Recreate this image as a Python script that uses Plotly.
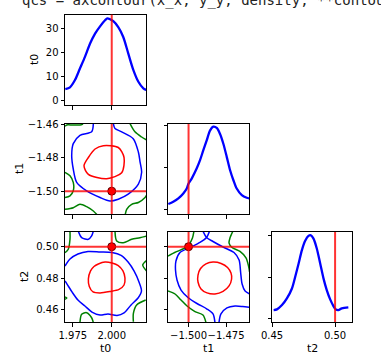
import plotly.graph_objects as go

W, H = 381, 363

# ---------------- data ----------------
param_names = ["t0", "t1", "t2"]
truth = [2.000, -1.500, 0.500]

# marginal densities
t0_grid = [1.9702, 1.9732, 1.9764, 1.9796, 1.9828, 1.9861, 1.9893, 1.9925, 1.9957, 1.9972,
           1.9989, 2.0010, 2.0042, 2.0074, 2.0106, 2.0139, 2.0171, 2.0203, 2.0222]
t0_dens = [4.9, 5.6, 8.6, 13.4, 18.2, 23.7, 27.8, 30.8, 33.3, 34.1,
           33.7, 32.9, 30.5, 26.4, 19.6, 12.7, 7.9, 5.2, 4.5]

t1_grid = [-1.5135, -1.5102, -1.5068, -1.5035, -1.5012, -1.5002, -1.4979, -1.4946, -1.4924,
           -1.4902, -1.4879, -1.4857, -1.4835, -1.4812, -1.4790, -1.4768, -1.4745, -1.4723,
           -1.4701, -1.4679, -1.4645, -1.4612, -1.4595]
t1_dens = [2.38, 3.49, 5.08, 7.46, 9.84, 11.9, 14.6, 19.4, 23.3, 28.1, 32.9, 37.6, 39.5,
           38.9, 36.0, 31.3, 24.9, 18.6, 13.8, 9.84, 6.67, 5.40, 5.08]

t2_grid = [0.4513, 0.4539, 0.4579, 0.4618, 0.4658, 0.4684, 0.4711, 0.4737, 0.4763, 0.4789,
           0.4808, 0.4829, 0.4855, 0.4882, 0.4908, 0.4934, 0.4961, 0.4987, 0.5005, 0.5026,
           0.5053, 0.5105]
t2_dens = [4.03, 4.36, 6.45, 9.68, 14.5, 20.2, 26.6, 33.1, 37.6, 40.0, 40.3, 38.7, 33.9,
           26.6, 19.4, 13.7, 9.19, 5.97, 4.36, 4.03, 4.84, 5.32]

# contour paths, panel t0 (x) vs t1 (y)
t0t1_red = ([1.9946, 2.0042, 2.0079, 2.0064, 1.9968, 1.9850, 1.9822, 1.9850, 1.9893, 1.9946],
            [-1.4727, -1.4738, -1.4798, -1.4889, -1.4925, -1.4899, -1.4848, -1.4798, -1.4747, -1.4727])
t0t1_blue = ([1.9882, 1.9871, 1.9796, 1.9753, 1.9743, 1.9753, 1.9775, 1.9839, 1.9925, 1.9989,
              2.0042, 2.0106, 2.0171, 2.0192, 2.0182, 2.0171, 2.0138, 2.0064, 2.0021, 2.0010],
             [-1.4594, -1.4644, -1.4665, -1.4715, -1.4786, -1.4867, -1.4947, -1.4998, -1.5038, -1.5059,
              -1.5048, -1.5018, -1.4958, -1.4887, -1.4826, -1.4765, -1.4685, -1.4644, -1.4624, -1.4594])
t0t1_green = [
    ([1.9700, 1.9719, 1.9745, 1.9796, 1.9816], [-1.4609, -1.4602, -1.4603, -1.4603, -1.4597]),
    ([2.0117, 2.0149, 2.0192, 2.0228], [-1.4594, -1.4644, -1.4675, -1.4695]),
    ([1.9700, 1.9732, 1.9753, 1.9753, 1.9732, 1.9700], [-1.4887, -1.4907, -1.4947, -1.4998, -1.5028, -1.5038]),
    ([1.9700, 1.9753, 1.9796, 1.9839, 1.9882, 1.9914], [-1.5109, -1.5099, -1.5079, -1.5093, -1.5119, -1.5150]),
    ([2.0085, 2.0096, 2.0128, 2.0171, 2.0214, 2.0228], [-1.5150, -1.5109, -1.5079, -1.5068, -1.5038, -1.5018]),
]

# contour paths, panel t0 (x) vs t2 (y)
t0t2_red = ([1.9914, 1.9957, 2.0002, 2.0042, 2.0072, 2.0085, 2.0079, 2.0047, 1.9989, 1.9925,
             1.9880, 1.9856, 1.9850, 1.9864, 1.9886, 1.9914],
            [0.4891, 0.4903, 0.4897, 0.4881, 0.4847, 0.4802, 0.4758, 0.4730, 0.4717, 0.4708,
             0.4714, 0.4749, 0.4796, 0.4847, 0.4875, 0.4891])
t0t2_blue = [
    ([1.9700, 1.9732, 1.9783, 1.9848, 1.9925, 2.0002, 2.0060, 2.0105, 2.0143, 2.0175, 2.0191,
      2.0169, 2.0124, 2.0079, 2.0034, 1.9976, 1.9925, 1.9873, 1.9828, 1.9783, 1.9745, 1.9713, 1.9700],
     [0.4878, 0.4922, 0.4954, 0.4970, 0.4967, 0.4963, 0.4945, 0.4903, 0.4847, 0.4777, 0.4720,
      0.4676, 0.4632, 0.4581, 0.4565, 0.4575, 0.4568, 0.4587, 0.4625, 0.4663, 0.4714, 0.4764, 0.4783]),
    ([1.9785, 1.9807, 1.9850, 1.9871, 1.9882], [0.5099, 0.5057, 0.5047, 0.5068, 0.5099]),
]
t0t2_green = [
    ([1.9732, 1.9732, 1.9721, 1.9700], [0.5099, 0.5047, 0.4984, 0.4962]),
    ([2.0021, 2.0032, 2.0074, 2.0128, 2.0181, 2.0228], [0.5099, 0.5036, 0.5025, 0.5047, 0.5057, 0.5068]),
    ([2.0228, 2.0199, 2.0228], [0.4916, 0.4884, 0.4842]),
    ([2.0139, 2.0139, 2.0160, 2.0218], [0.4526, 0.4579, 0.4632, 0.4663]),
    ([1.9700, 1.9712, 1.9700], [0.4682, 0.4675, 0.4668]),
    ([1.9796, 1.9807, 1.9839, 1.9871, 1.9882], [0.4520, 0.4573, 0.4583, 0.4551, 0.4520]),
]

# contour paths, panel t1 (x) vs t2 (y)
t1t2_red = ([-1.4884, -1.4837, -1.4783, -1.4740, -1.4717, -1.4713, -1.4730, -1.4770, -1.4824,
             -1.4877, -1.4917, -1.4937, -1.4937, -1.4920, -1.4884],
            [0.4891, 0.4903, 0.4894, 0.4869, 0.4834, 0.4796, 0.4752, 0.4717, 0.4701,
             0.4708, 0.4733, 0.4777, 0.4821, 0.4862, 0.4891])
t1t2_blue = [
    ([-1.4860, -1.4880, -1.4924, -1.4990, -1.5057, -1.5084, -1.5087, -1.5077, -1.5050, -1.5004,
      -1.4944, -1.4877, -1.4837, -1.4824],
     [0.5099, 0.5058, 0.5027, 0.4995, 0.4963, 0.4910, 0.4853, 0.4790, 0.4726, 0.4679,
      0.4641, 0.4606, 0.4575, 0.4521]),
    ([-1.4904, -1.4880, -1.4837, -1.4770, -1.4697, -1.4663, -1.4653, -1.4643, -1.4623, -1.4593],
     [0.5099, 0.5058, 0.5033, 0.4998, 0.4963, 0.4916, 0.4840, 0.4764, 0.4720, 0.4701]),
    ([-1.4797, -1.4784, -1.4744, -1.4690, -1.4640, -1.4593],
     [0.4521, 0.4575, 0.4613, 0.4625, 0.4622, 0.4616]),
]
t1t2_green = [
    ([-1.5137, -1.5084, -1.5030, -1.4997, -1.4974, -1.4964], [0.4941, 0.4967, 0.4989, 0.5014, 0.5055, 0.5099]),
    ([-1.4704, -1.4724, -1.4730, -1.4710, -1.4657, -1.4617, -1.4600, -1.4593],
     [0.5099, 0.5055, 0.5023, 0.4995, 0.4970, 0.4929, 0.4878, 0.4840]),
    ([-1.5137, -1.5090, -1.5050, -1.5010, -1.4957, -1.4904, -1.4884],
     [0.4720, 0.4701, 0.4663, 0.4625, 0.4590, 0.4568, 0.4521]),
]

# axis ranges and ticks
t0_range = [1.970, 2.022]
t1_range = [-1.5137, -1.4597]
t2_range_row = [0.4524, 0.5093]
t2_range_col = [0.450, 0.5134]
t0_ticks = [1.975, 2.000]
t1_xticks = [-1.500, -1.475]
t1_yticks = [-1.50, -1.48, -1.46]
t2_yticks = [0.46, 0.48, 0.50]
t2_xticks = [0.45, 0.50]
d0_ticks = [0, 10, 20, 30]
d0_range = [-1.7, 35.6]
d1_ticks = [0, 20, 40]
d1_range = [-2.4, 40.8]
d2_ticks = [0, 20, 40]
d2_range = [-1.77, 41.9]

title_text = "qcs = axcontour(x_x, y_y, density, **contour_kwargs)"

# ---------------- layout geometry ----------------
def xd(a, b):
    return [a / W, b / W]

def yd(top, bottom):
    return [1 - bottom / H, 1 - top / H]

col = [xd(65, 146), xd(168, 249), xd(272, 352)]
row = [yd(14.7, 105), yd(124, 214), yd(232, 322)]

RED = "rgba(255,0,0,0.8)"
FONT = dict(family="DejaVu Sans", size=10, color="black")

fig = go.Figure()

def add_line(x, y, color, width, ax):
    fig.add_trace(go.Scatter(x=x, y=y, mode="lines", line=dict(color=color, width=width, shape="spline", smoothing=0.8),
                             xaxis="x" + ax, yaxis="y" + ax, showlegend=False, hoverinfo="skip"))

# diagonal
add_line(t0_grid, t0_dens, "blue", 2.3, "")
add_line(t1_grid, t1_dens, "blue", 2.3, "3")
add_line(t2_grid, t2_dens, "blue", 2.3, "6")

# 2D panels
for ax, red, blues, greens in [("2", t0t1_red, [t0t1_blue], t0t1_green),
                               ("4", t0t2_red, t0t2_blue, t0t2_green),
                               ("5", t1t2_red, t1t2_blue, t1t2_green)]:
    for g in greens:
        add_line(g[0], g[1], "green", 1.5, ax)
    for b in blues:
        add_line(b[0], b[1], "blue", 1.5, ax)
    add_line(red[0], red[1], "red", 1.5, ax)

shapes = []
def vline(xv, ax):
    shapes.append(dict(type="line", xref="x" + ax, yref=("y" + ax) + " domain", x0=xv, x1=xv, y0=0, y1=1,
                       line=dict(color=RED, width=2), layer="above"))
def hline(yv, ax):
    shapes.append(dict(type="line", yref="y" + ax, xref=("x" + ax) + " domain", y0=yv, y1=yv, x0=0, x1=1,
                       line=dict(color=RED, width=2), layer="above"))

vline(truth[0], ""); vline(truth[1], "3"); vline(truth[2], "6")
vline(truth[0], "2"); hline(truth[1], "2")
vline(truth[0], "4"); hline(truth[2], "4")
vline(truth[1], "5"); hline(truth[2], "5")

for ax, px, py in [("2", truth[0], truth[1]), ("4", truth[0], truth[2]), ("5", truth[1], truth[2])]:
    fig.add_trace(go.Scatter(x=[px], y=[py], mode="markers",
                             marker=dict(color="red", size=8, line=dict(color="#550000", width=1)),
                             xaxis="x" + ax, yaxis="y" + ax, showlegend=False, hoverinfo="skip", cliponaxis=False))

def axis(domain, rng, ticks, labels, fmt, anchor):
    return dict(domain=domain, range=rng, tickvals=ticks, showticklabels=labels, tickformat=fmt,
                ticks="outside", ticklen=3.5, tickwidth=1, tickcolor="black", tickangle=0,
                showline=True, linecolor="black", linewidth=1, mirror=True,
                showgrid=False, zeroline=False, anchor=anchor, tickfont=FONT, fixedrange=True)

layout = dict(
    width=W, height=H, margin=dict(l=0, r=0, t=0, b=0, autoexpand=False),
    paper_bgcolor="white", plot_bgcolor="white", font=FONT, shapes=shapes,
    title=dict(text=title_text, x=22 / W, xanchor="left", xref="container", y=0.999, yref="container",
               yanchor="middle", font=dict(family="DejaVu Sans Mono", size=14, color="#222222")),
    xaxis=axis(col[0], t0_range, t0_ticks, False, ".3f", "y"),
    yaxis=axis(row[0], d0_range, d0_ticks, True, "d", "x"),
    xaxis2=axis(col[0], t0_range, t0_ticks, False, ".3f", "y2"),
    yaxis2=axis(row[1], t1_range, t1_yticks, True, ".2f", "x2"),
    xaxis3=axis(col[1], t1_range, t1_xticks, False, ".3f", "y3"),
    yaxis3=axis(row[1], d1_range, d1_ticks, False, "d", "x3"),
    xaxis4=axis(col[0], t0_range, t0_ticks, True, ".3f", "y4"),
    yaxis4=axis(row[2], t2_range_row, t2_yticks, True, ".2f", "x4"),
    xaxis5=axis(col[1], t1_range, t1_xticks, True, ".3f", "y5"),
    yaxis5=axis(row[2], t2_range_row, t2_yticks, False, ".2f", "x5"),
    xaxis6=axis(col[2], t2_range_col, t2_xticks, True, ".2f", "y6"),
    yaxis6=axis(row[2], d2_range, d2_ticks, False, "d", "x6"),
)

annotations = []
# axis titles
for name, xc, yc in [(param_names[0], 34, 60), (param_names[1], 20, 169), (param_names[2], 24, 277)]:
    annotations.append(dict(text=name, x=xc / W, y=1 - yc / H, xref="paper", yref="paper", textangle=-90,
                            xanchor="center", yanchor="middle", showarrow=False, font=dict(family="DejaVu Sans", size=11)))
for name, xc in [(param_names[0], 105.5), (param_names[1], 208.5), (param_names[2], 312)]:
    annotations.append(dict(text=name, x=xc / W, y=1 - 348 / H, xref="paper", yref="paper",
                            xanchor="center", yanchor="middle", showarrow=False, font=dict(family="DejaVu Sans", size=11)))
layout["annotations"] = annotations

fig.update_layout(layout)
fig.write_html("out.html", config={"displayModeBar": False},
               post_script="document.body.style.margin='0';document.body.style.overflow='hidden';")
